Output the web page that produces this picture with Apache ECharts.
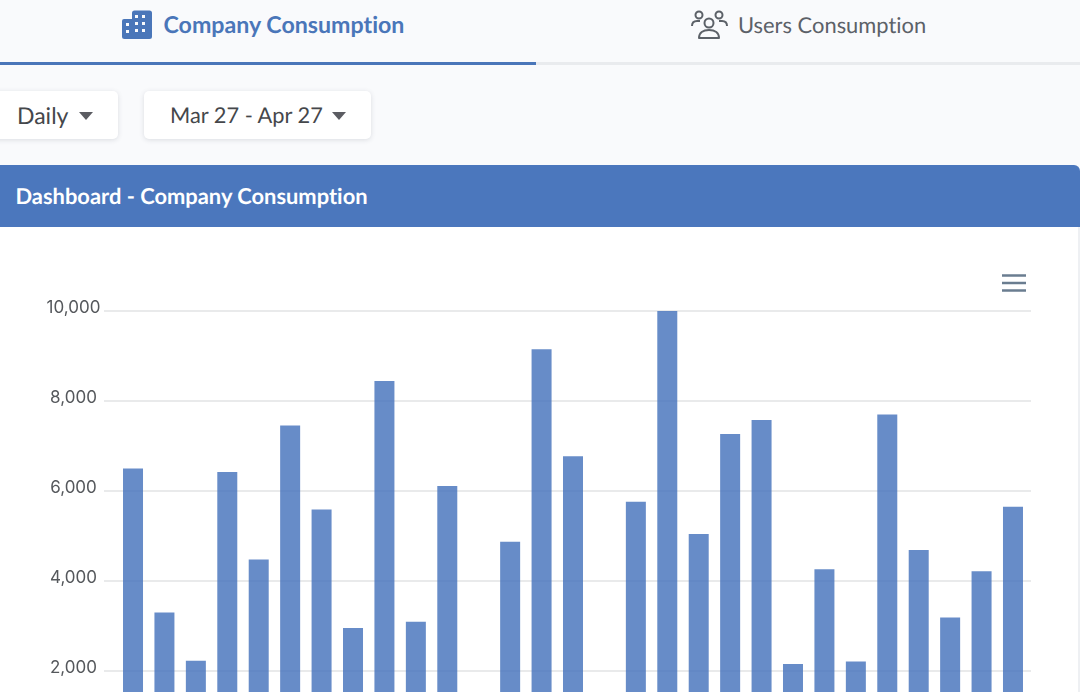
<!DOCTYPE html>
<html>
<head>
<meta charset="utf-8">
<title>Dashboard - Company Consumption</title>
<script src="https://cdn.jsdelivr.net/npm/echarts@6/dist/echarts.min.js"></script>
<style>
    html, body { margin: 0; padding: 0; width: 1080px; height: 692px; overflow: hidden; background: #f9fafc; font-family: Lato, sans-serif; text-rendering: geometricPrecision; font-variant-ligatures: none; }
    .abs { position: absolute; white-space: nowrap; }
    .tab-a { left: 163.500px; top: 9px; font-size: 23.200px; line-height: 30px; font-weight: 700; color: #4a76b9; }
    .tab-b { left: 738px; top: 10px; font-size: 21.900px; line-height: 30px; color: #5c6168; }
    .btn { top: 91px; height: 48px; background: #fff; border-radius: 5px; box-shadow: 0 1px 5px rgba(60, 70, 90, .16); }
    .btn-text { top: 100px; font-size: 21.800px; line-height: 30px; color: #45474b; }
    .caret { top: 112px; width: 0; height: 0; border-left: 7px solid transparent; border-right: 7px solid transparent; border-top: 8px solid #5b5c62; }
    .head { left: 0; top: 165px; width: 1080px; height: 62px; background: #4b77bd; border-top-right-radius: 6px; }
    .head-text { left: 15.500px; top: 181px; font-size: 21.900px; line-height: 30px; font-weight: 700; color: #fff; }
    .card { left: 0; top: 227px; width: 1078px; height: 465px; background: #fff; border-right: 2px solid #eef0f3; }
    #chart { position: absolute; left: 0; top: 227px; width: 1078px; height: 600px; }
</style>
</head>
<body>
<svg class="abs" style="left:122px;top:10px" width="30" height="29" viewBox="0 0 30 29">
    <path fill="#4a76b9" d="M2 9h8V3a2.5 2.5 0 0 1 2.5-2.5h15A2.5 2.5 0 0 1 30 3v23.5a2.5 2.5 0 0 1-2.5 2.5h-25A2.5 2.5 0 0 1 0 26.500V11a2 2 0 0 1 2-2z"/>
    <g fill="#f9fafc">
        <rect x="4" y="13" width="3" height="3"/><rect x="4" y="20" width="3" height="3"/>
        <rect x="13" y="5" width="3" height="3"/><rect x="20" y="5" width="3" height="3"/>
        <rect x="13" y="12" width="3" height="3"/><rect x="20" y="12" width="3" height="3"/>
        <rect x="13" y="19" width="3" height="3"/><rect x="20" y="19" width="3" height="3"/>
    </g>
</svg>
<div class="abs tab-a">Company Consumption</div>
<svg class="abs" style="left:691px;top:10px" width="37" height="30" viewBox="0 0 37 30" fill="none" stroke="#5c6168" stroke-width="2">
    <circle cx="8" cy="5" r="3.500"/><circle cx="28" cy="5" r="3.500"/><circle cx="18" cy="13" r="4.500"/>
    <path d="M1 16c0-3 2-5 5-5h3M36 16c0-3-2-5-5-5h-3"/>
    <path d="M8 28c0-5 4-8 10-8s10 3 10 8z" stroke-linejoin="round"/>
</svg>
<div class="abs tab-b">Users Consumption</div>
<div class="abs" style="left:0;top:62px;width:1080px;height:3px;background:#e9ebee"></div>
<div class="abs" style="left:0;top:62px;width:536px;height:3px;background:#4a76b9"></div>

<div class="abs btn" style="left:-20px;width:138px"></div>
<div class="abs btn-text" style="left:17px;font-size:23px">Daily</div>
<div class="abs caret" style="left:79px"></div>
<div class="abs btn" style="left:144px;width:227px"></div>
<div class="abs btn-text" style="left:170px">Mar 27 - Apr 27</div>
<div class="abs caret" style="left:332px"></div>

<div class="abs head"></div>
<div class="abs head-text">Dashboard - Company Consumption</div>
<div class="abs card"></div>
<div id="chart"></div>
<svg class="abs" style="left:1001px;top:274px" width="26" height="18" stroke="#6a7d90" stroke-width="2.500">
    <line x1="1" y1="1.500" x2="25" y2="1.500"/><line x1="1" y1="9" x2="25" y2="9"/><line x1="1" y1="16.500" x2="25" y2="16.500"/>
</svg>

<script>
// 每日消耗（图中裁掉了底部，数值按柱顶读取）
var consumption = [6500, 3300, 2230, 6420, 4480, 7455, 5590, 2955, 8445, 3095, 6110, null,
    4875, 9150, 6770, null, 5760, 10000, 5045, 7265, 7580, 2155, 4260, 2210, 7700, 4690, 3190, 4215, 5650];
var yTicks = [0, 2000, 4000, 6000, 8000, 10000];

var barColor = 'rgba(74, 118, 189, 0.84)';

var chart = echarts.init(document.getElementById('chart'), null, { renderer: 'canvas' });
chart.setOption({
    animation: false,
    grid: { left: 104, right: 47, top: 84, height: 450 },
    xAxis: {
        type: 'value',
        // 网格线比柱子区域宽，所以x轴用数值轴留出两端的空白
        min: -0.923,
        max: 28.573,
        show: false
    },
    yAxis: {
        type: 'value',
        min: yTicks[0],
        max: yTicks[yTicks.length - 1],
        interval: 2000,
        axisLine: { show: false },
        axisTick: { show: false },
        axisLabel: {
            align: 'center',
            margin: 30.500,
            verticalAlign: 'bottom',
            lineHeight: 6,
            fontFamily: 'Inter',
            fontSize: 17,
            color: '#55585c',
            formatter: function (v) { return v.toLocaleString('en-US'); }
        },
        splitLine: { lineStyle: { color: '#e2e3e5', width: 1.500 } }
    },
    series: [{
        type: 'bar',
        barWidth: 20,
        itemStyle: { color: barColor },
        data: consumption.map(function (v, i) { return [i, v]; })
    }]
});
</script>
</body>
</html>
